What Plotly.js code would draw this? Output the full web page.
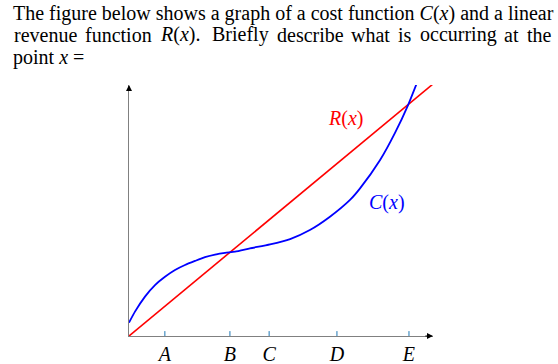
<!DOCTYPE html>
<html>
<head>
<meta charset="utf-8">
<script src="https://cdn.plot.ly/plotly-3.0.1.min.js"></script>
<style>html,body{margin:0;padding:0;background:#fff;}#chart{width:558px;height:364px;}</style>
</head>
<body>
<div id="chart"></div>
<script>
// Data (arbitrary units)
const costX = [0, 0.197, 0.526, 0.855, 1.184, 1.513, 1.842, 2.171, 2.50, 2.83, 3.16, 3.49, 3.98, 4.64, 5.30, 5.95, 6.61, 7.27, 7.60, 8.26, 8.75, 9.18, 9.47];
const costY = [0.53, 0.97, 1.57, 2.03, 2.36, 2.63, 2.83, 2.99, 3.14, 3.24, 3.31, 3.36, 3.49, 3.65, 3.86, 4.22, 4.75, 5.42, 5.88, 7.01, 8.09, 9.20, 10.08];
const revenueX = [0, 10];
const revenueY = [0, 10.04];
const tickVals = [1.18, 3.32, 4.61, 6.84, 9.21];
const tickLabels = ['A', 'B', 'C', 'D', 'E'];

const serif = '"Liberation Serif", "DejaVu Serif", serif';

const traces = [
  {x: tickVals, y: tickVals.map(() => 0), mode: 'markers', type: 'scatter', hoverinfo: 'skip',
   marker: {symbol: 'line-ns-open', size: 7, line: {color: '#b0b0b0', width: 1}}},
  {x: revenueX, y: revenueY, mode: 'lines', type: 'scatter', line: {color: '#ff0000', width: 1.6}},
  {x: costX, y: costY, mode: 'lines', type: 'scatter', line: {color: '#0000ff', width: 1.8, shape: 'spline', smoothing: 0.6}}
];

function px2paperX(p) { return (p - 129) / 304; }
function px2paperY(p) { return (336 - p) / 251; }

const fontSize = 20;
const textFont = {family: serif, size: fontSize, color: '#000'};
const annotations = [];
function addText(t, px, py) {
  annotations.push({xref: 'paper', yref: 'paper', x: px2paperX(px), y: px2paperY(py), xanchor: 'left', yanchor: 'middle',
    text: t, showarrow: false, font: textFont});
}

// measure a word with <i>..</i> parts
const ctx = document.createElement('canvas').getContext('2d');
function measure(html) {
  let w = 0;
  html.split(/(<i>.*?<\/i>)/).forEach(seg => {
    if (!seg) return;
    const it = seg.startsWith('<i>');
    const s = seg.replace(/<\/?i>/g, '');
    ctx.font = (it ? 'italic ' : '') + fontSize + 'px "Liberation Serif"';
    w += ctx.measureText(s).width;
  });
  return w;
}

addText('The figure below shows a graph of a cost function <i>C</i>(<i>x</i>) and a linear', 11, 13);
// justified second line, spanning the same width as the reference
const line2Words = ['revenue', 'function', '<i>R</i>(<i>x</i>).', 'Briefly', 'describe', 'what', 'is', 'occurring', 'at', 'the'];
const gapWeights = [1, 1, 1.6, 1, 1, 1, 1, 1, 1]; // sentence break is wider
const leftPx = 12, rightPx = 549;
const widths = line2Words.map(measure);
const totalW = widths.reduce((a, b) => a + b, 0);
const unitGap = (rightPx - leftPx - totalW) / gapWeights.reduce((a, b) => a + b, 0);
let cur = leftPx;
line2Words.forEach((w, i) => {
  addText(w, cur, 35);
  cur += widths[i] + (i < gapWeights.length ? gapWeights[i] * unitGap : 0);
});
addText('point <i>x</i> =', 11, 57);

annotations.push(
  {xref: 'x', yref: 'y', x: 10, y: 0, ax: 9.7, ay: 0, axref: 'x', ayref: 'y', text: '', showarrow: true,
   arrowhead: 2, arrowsize: 1, arrowwidth: 1.2, arrowcolor: '#000'},
  {xref: 'x', yref: 'y', x: 0, y: 10, ax: 0, ay: 9.7, axref: 'x', ayref: 'y', text: '', showarrow: true,
   arrowhead: 2, arrowsize: 1, arrowwidth: 1.2, arrowcolor: '#000'},
  {xref: 'paper', yref: 'paper', x: px2paperX(345), y: px2paperY(118), xanchor: 'center', yanchor: 'middle',
   text: '<i>R</i>(<i>x</i>)', showarrow: false, font: {family: serif, size: 20, color: '#ff0000'}},
  {xref: 'paper', yref: 'paper', x: px2paperX(387), y: px2paperY(202), xanchor: 'center', yanchor: 'middle',
   text: '<i>C</i>(<i>x</i>)', showarrow: false, font: {family: serif, size: 20, color: '#0000ff'}}
);

const layout = {
  width: 558, height: 364,
  margin: {l: 129, r: 125, t: 85, b: 28},
  paper_bgcolor: '#fff', plot_bgcolor: '#fff',
  showlegend: false,
  xaxis: {range: [0, 10], showgrid: false, zeroline: false, showline: true, linecolor: '#808080', linewidth: 1.4,
          tickvals: tickVals, ticktext: tickLabels, ticks: '',
          tickfont: {family: serif, size: 20, color: '#000', style: 'italic'},
          tickangle: 0, fixedrange: true},
  yaxis: {range: [0, 10], showgrid: false, zeroline: false, showline: true, linecolor: '#808080', linewidth: 1.4,
          showticklabels: false, ticks: '', fixedrange: true},
  annotations: annotations
};

Plotly.newPlot('chart', traces, layout, {displayModeBar: false, staticPlot: true});
</script>
</body>
</html>
